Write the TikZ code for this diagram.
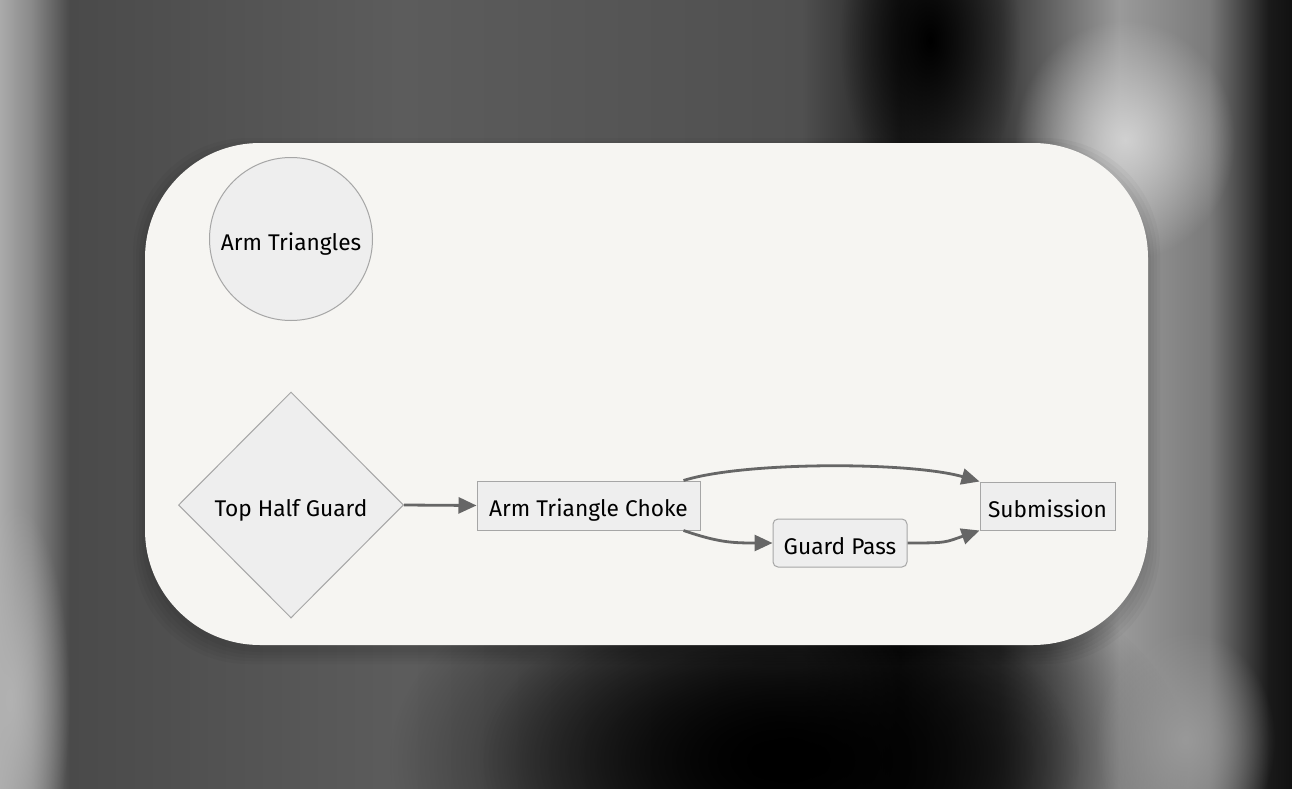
\documentclass[tikz,border=0pt]{standalone}
\usepackage{fontspec}
\setmainfont{Fira Sans}
\usetikzlibrary{shapes.geometric,arrows.meta,fadings}
\definecolor{cardbg}{HTML}{F6F5F2}
\definecolor{nodefill}{HTML}{EEEEEE}
\definecolor{nodeline}{HTML}{A6A6A6}
\definecolor{edgecol}{HTML}{666666}
\definecolor{b0}{HTML}{AAAAAA}
\definecolor{b1}{HTML}{8A8A8A}
\definecolor{b2}{HTML}{4A4A4A}
\definecolor{b3}{HTML}{5C5C5C}
\definecolor{b4}{HTML}{505050}
\definecolor{b5}{HTML}{1E1E1E}
\definecolor{b6}{HTML}{3A3A3A}
\definecolor{b7}{HTML}{9A9A9A}
\definecolor{b8}{HTML}{7A7A7A}
\definecolor{b9}{HTML}{1A1A1A}
\definecolor{b10}{HTML}{111111}
\pgfdeclarehorizontalshading{bgshade}{100bp}{color(0bp)=(b0); color(25bp)=(b0); color(26.2bp)=(b1); color(27.7bp)=(b2); color(40.5bp)=(b3); color(56bp)=(b4); color(59.8bp)=(b5); color(63.7bp)=(b6); color(68.3bp)=(b7); color(71.8bp)=(b8); color(74.1bp)=(b9); color(75bp)=(b10); color(100bp)=(b10)}
\tikzfading[name=softblob, inner color=transparent!0, outer color=transparent!100]
\tikzset{
  nodetext/.style={font=\fontsize{22.7}{26}\selectfont, text=black, text height=22pt, text depth=0pt},
  basenode/.style={nodetext, draw=nodeline, fill=nodefill, line width=1pt, inner sep=0pt},
  boxnode/.style={basenode, rectangle},
  roundbox/.style={basenode, rectangle, rounded corners=5pt},
  circlenode/.style={basenode, circle},
  decision/.style={basenode, diamond},
  edge/.style={draw=edgecol, line width=2.8pt, -{Triangle[length=18pt,width=16pt]}},
}
\begin{document}
\begin{tikzpicture}[x=1pt,y=-1pt]
\useasboundingbox (0,0) rectangle (1292,789);
% blurred background
\shade[shading=bgshade] (0,0) rectangle (1292,789);
\fill[black, path fading=softblob] (790,760) ellipse [x radius=400, y radius=230];
\fill[black, path fading=softblob] (780,760) ellipse [x radius=300, y radius=170];
\fill[black, path fading=softblob] (930,40) ellipse [x radius=90, y radius=160];
\fill[white!82!black, path fading=softblob] (1125,140) ellipse [x radius=110, y radius=120];
\fill[white!60!black, path fading=softblob] (1185,740) ellipse [x radius=90, y radius=110];
\fill[white!70!black, path fading=softblob] (10,700) ellipse [x radius=60, y radius=200];
% card shadow (soft, mostly below)
\foreach \s in {0,3,...,12} {
  \fill[black, opacity=0.03, rounded corners=115pt] (145-\s,150-\s) rectangle (1148+\s,652+\s);
}
% card
\fill[cardbg, rounded corners=115pt] (145,143) rectangle (1148,645);
% nodes
\node[circlenode, minimum size=163pt] (arm) at (291,239) {Arm Triangles};
\node[decision, minimum width=225pt, minimum height=226pt] (thg) at (291,505) {Top Half Guard};
\node[boxnode, minimum width=223pt, minimum height=49pt] (atc) at (588.5,505.5) {Arm Triangle Choke};
\node[roundbox, minimum width=134pt, minimum height=48pt] (gp) at (840,543) {Guard Pass};
\node[boxnode, minimum width=135pt, minimum height=48pt] (sub) at (1047.5,506) {Submission};
% edges
\draw[edge] (thg.east) -- (atc.west);
\draw[edge] ([xshift=-17pt]atc.north east) .. controls +(60,-19) and +(-70,-20) .. (sub.north west);
\draw[edge] ([xshift=-17pt]atc.south east) .. controls +(35,12) and +(-40,0) .. (gp.west);
\draw[edge] (gp.east) .. controls +(40,0) and +(-35,12) .. (sub.south west);
\end{tikzpicture}
\end{document}
